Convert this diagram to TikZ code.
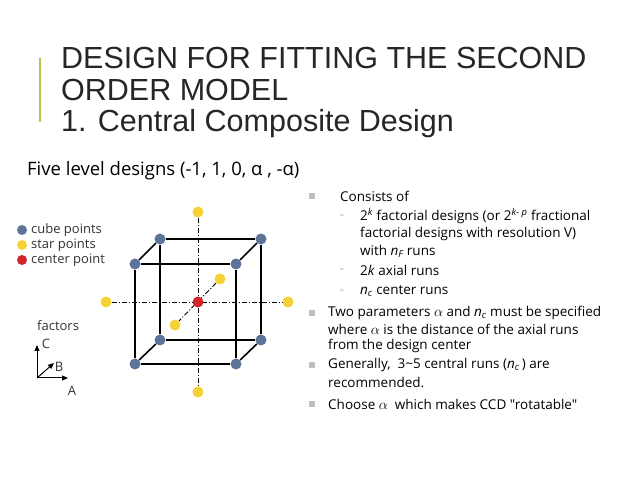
\documentclass[tikz,border=0pt]{standalone}
\usepackage{fontspec}
\setmainfont{Liberation Sans}
\newfontfamily\bodyfont{Open Sans}
\newfontfamily\symfont{DejaVu Sans}
\usetikzlibrary{arrows.meta}
\definecolor{cubeblue}{HTML}{5E7399}
\definecolor{staryellow}{HTML}{F7D236}
\definecolor{centred}{HTML}{D0262A}
\definecolor{barg}{HTML}{A8C84A}
\tikzset{
  pt/.style={circle,inner sep=0pt,minimum size=11pt},
  cube/.style={pt,fill=cubeblue},
  star/.style={pt,fill=staryellow},
  ctr/.style={pt,fill=centred},
  edge/.style={line width=1.6pt,black},
  axis/.style={line width=0.9pt,dash pattern=on 5pt off 2pt on 1pt off 2pt},
  body/.style={anchor=west,font=\bodyfont\fontsize{13.5}{16}\selectfont,inner sep=0pt},
  sq/.style={fill=black!25,minimum size=6pt,inner sep=0pt},
  ttl/.style={anchor=west,inner sep=0pt,font=\fontsize{30.5}{30}\selectfont,text=black!85},
  small/.style={font=\bodyfont\fontsize{13}{13}\selectfont,text=black!80,inner sep=0pt},
}
\begin{document}
\begin{tikzpicture}[x=1pt,y=-1pt]
\useasboundingbox (0,0) rectangle (638,478);
% title
\draw [barg,line width=1.2pt] (40,58) -- (40,122);
\node [ttl] (t1) at (61,58) {DESIGN FOR FITTING THE SECOND};
\node [ttl] (t2) at (61,90) {ORDER MODEL};
\node [ttl] (t3) at (61,124) {1. Central Composite Design};
\node [anchor=west,inner sep=0pt,font=\bodyfont\fontsize{18.5}{20}\selectfont] (sub) at (27,171) {Five level designs (-1, 1, 0, α , -α)};
% axes through center
\node [star] (su) at (198,212) {};
\node [star] (sd) at (198,392) {};
\node [star] (sl) at (106,302) {};
\node [star] (sr) at (288,302) {};
\node [star] (sb) at (220,279) {};
\node [star] (sf) at (175,325) {};
\draw [axis] (su) -- (sd);
\draw [axis] (sl) -- (sr);
\draw [axis] (sb) -- (sf);
% cube
\node [cube] (a1) at (135,264) {};
\node [cube] (a2) at (236,264) {};
\node [cube] (a3) at (236,364) {};
\node [cube] (a4) at (135,364) {};
\node [cube] (b1) at (160,239) {};
\node [cube] (b2) at (261,239) {};
\node [cube] (b3) at (261,340) {};
\node [cube] (b4) at (160,340) {};
\draw [edge] (a1) -- (a2) -- (a3) -- (a4) -- (a1);
\draw [edge] (b1) -- (b2) -- (b3) -- (b4) -- (b1);
\foreach \i in {1,2,3,4}
  \draw [edge] (a\i) -- (b\i);
\node [ctr] (c0) at (198,302) {};
% legend
\foreach \y/\s/\t in {230/cube/cube points,245/star/star points,260/ctr/center point}{
  \node [\s,minimum size=10pt] (l\s) at (22,\y) {};
  \node [small,anchor=west] at (31,\y) {\t};
}
\node [small,anchor=west] (fac) at (37,326) {factors};
\coordinate (o) at (37,378);
\coordinate (oc) at (37,345);
\coordinate (oa) at (68,378);
\coordinate (ob) at (54,363);
\draw [-{Triangle[length=6pt,width=5pt]},line width=1pt] (o) -- (oc);
\draw [-{Triangle[length=6pt,width=5pt]},line width=1pt] (o) -- (oa);
\draw [-{Triangle[length=6pt,width=5pt]},line width=1pt] (o) -- (ob);
\node [small] at (46,344) {C};
\node [small] at (59,367) {B};
\node [small] at (72,391) {A};
% bullets
\foreach \y in {196,313,365,404}
  \node [sq] at (312,\y) {};
\foreach \y in {216,270,291}
  \node [text=black!30,font=\symfont\fontsize{7}{7}\selectfont] at (342,\y) {➢};
\node [body] at (340,196) {Consists of};
\node [body] at (360,216) {2\textsuperscript{\itshape k} factorial designs (or 2\textsuperscript{\itshape k- p} fractional};
\node [body] at (360,234) {factorial designs with resolution V)};
\node [body] at (360,251) {with \textit{n\textsubscript{F}} runs};
\node [body] at (360,270) {2\textit{k} axial runs};
\node [body] at (360,291) {\textit{n\textsubscript{c}} center runs};
\node [body] at (328,313) {Two parameters \(\alpha\) and \textit{n\textsubscript{c}} must be specified};
\node [body] at (328,329) {where \(\alpha\) is the distance of the axial runs};
\node [body] at (328,346) {from the design center};
\node [body] at (328,365) {Generally,\ \ 3\textasciitilde5 central runs (\textit{n\textsubscript{c}}\,) are};
\node [body] at (328,382) {recommended.};
\node [body] at (328,404) {Choose \(\alpha\)\ \ which makes CCD "rotatable"};
\end{tikzpicture}
\end{document}
